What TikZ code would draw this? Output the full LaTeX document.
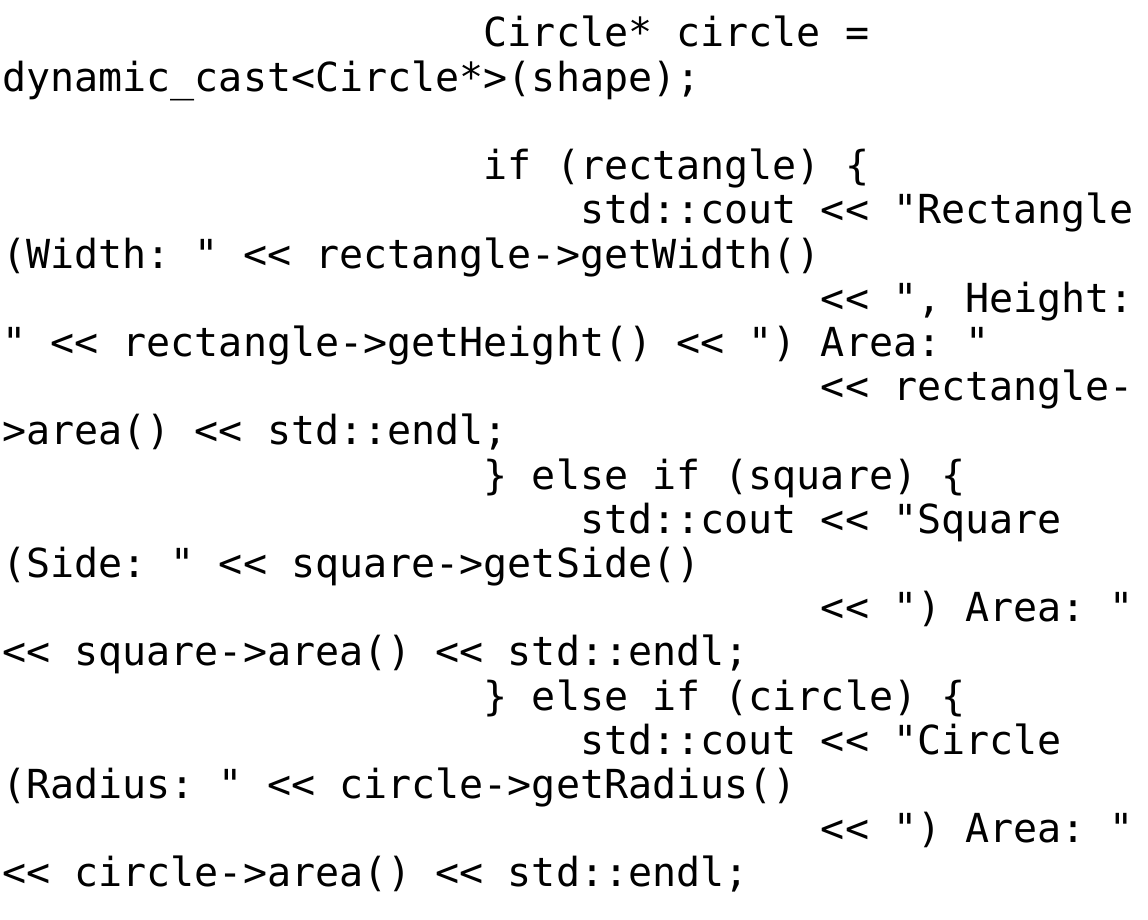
\documentclass[tikz,border=0pt]{standalone}
\usepackage{fontspec}
\setmonofont{DejaVu Sans Mono}
\begin{document}
\begin{tikzpicture}[x=1pt,y=-1pt,
  codeline/.style={anchor=base west,inner sep=0pt,font=\ttfamily\fontsize{40}{44}\selectfont}]
\fill[white] (0,0) rectangle (1148,920);
\useasboundingbox (0,0) rectangle (1148,920);
\def\cw{24.08}
\def\ls{44.2}
\def\yo{47}
\foreach \n/\c/\t in {
 0/20/{Circle* circle =},
 1/0/{dynamic\_cast<Circle*>(shape);},
 3/20/{if (rectangle) \{},
 4/24/{std::cout << "Rectangle},
 5/0/{(Width: " << rectangle->getWidth()},
 6/34/{<< ", Height:},
 7/0/{" << rectangle->getHeight() << ") Area: "},
 8/34/{<< rectangle-},
 9/0/{>area() << std::endl;},
 10/20/{\} else if (square) \{},
 11/24/{std::cout << "Square},
 12/0/{(Side: " << square->getSide()},
 13/34/{<< ") Area: "},
 14/0/{<< square->area() << std::endl;},
 15/20/{\} else if (circle) \{},
 16/24/{std::cout << "Circle},
 17/0/{(Radius: " << circle->getRadius()},
 18/34/{<< ") Area: "},
 19/0/{<< circle->area() << std::endl;}}
{
 \node[codeline] (l\n) at ({\c*\cw+2},{\yo+\n*\ls}) {\t};
}
\end{tikzpicture}
\end{document}
